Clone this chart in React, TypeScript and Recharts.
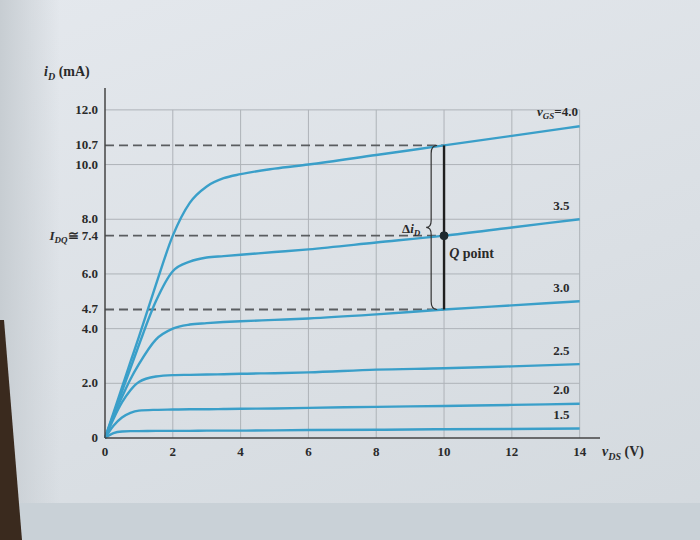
import { LineChart, Line, XAxis, YAxis, ReferenceLine, ReferenceDot } from "recharts";

const vds = [0, 0.25, 0.5, 0.75, 1, 1.5, 2, 2.5, 3, 3.5, 4, 5, 6, 8, 10, 12, 14];
const id40 = [0, 0.92, 1.85, 2.78, 3.7, 5.6, 7.4, 8.6, 9.2, 9.5, 9.65, 9.85, 10.0, 10.35, 10.7, 11.05, 11.4];
const id35 = [0, 0.85, 1.7, 2.55, 3.4, 5.0, 6.1, 6.45, 6.6, 6.65, 6.7, 6.8, 6.9, 7.15, 7.4, 7.7, 8.0];
const id30 = [0, 0.8, 1.5, 2.15, 2.7, 3.6, 4.0, 4.15, 4.2, 4.24, 4.27, 4.32, 4.37, 4.52, 4.7, 4.85, 5.0];
const id25 = [0, 0.7, 1.3, 1.75, 2.05, 2.25, 2.3, 2.31, 2.32, 2.33, 2.35, 2.37, 2.4, 2.5, 2.55, 2.62, 2.7];
const id20 = [0, 0.45, 0.75, 0.92, 1.0, 1.03, 1.04, 1.05, 1.05, 1.06, 1.07, 1.08, 1.1, 1.14, 1.17, 1.21, 1.25];
const id15 = [0, 0.18, 0.24, 0.25, 0.25, 0.26, 0.26, 0.26, 0.27, 0.27, 0.27, 0.28, 0.29, 0.3, 0.32, 0.33, 0.35];

const xTicks = [0, 2, 4, 6, 8, 10, 12, 14];
const yTicks = [0, 2, 4, 4.7, 6, 7.4, 8, 10, 10.7, 12];
const gridX = [2, 4, 6, 8, 10, 12, 14];
const gridY = [2, 4, 6, 8, 10, 12];

// Q point and the swing used for delta iD
const qV = 10;
const qI = 7.4;
const iHigh = 10.7;
const iLow = 4.7;

const series = [
  { key: "c40", vals: id40, label: "4.0" },
  { key: "c35", vals: id35, label: "3.5" },
  { key: "c30", vals: id30, label: "3.0" },
  { key: "c25", vals: id25, label: "2.5" },
  { key: "c20", vals: id20, label: "2.0" },
  { key: "c15", vals: id15, label: "1.5" },
];

const data = vds.map((v, i) => {
  const row: any = { v };
  series.forEach((s) => (row[s.key] = s.vals[i]));
  return row;
});

const BLUE = "#3a9fc9";
const INK = "#2a2a2a";
const FONT = "'Liberation Serif', 'DejaVu Serif', serif";

const YTick = (props: any) => {
  const { x, y, payload } = props;
  const v = payload.value;
  const base = { x, y, dy: 4, textAnchor: "end" as const, fontFamily: FONT, fontSize: 13, fontWeight: "bold", fill: INK };
  if (v === qI) {
    return (
      <text {...base}>
        <tspan fontStyle="italic">I</tspan>
        <tspan fontSize={9} dy={3} fontStyle="italic">DQ</tspan>
        <tspan dy={-3}>≅ 7.4</tspan>
      </text>
    );
  }
  return <text {...base}>{v === 0 ? "0" : v.toFixed(1)}</text>;
};

const XTick = (props: any) => {
  const { x, y, payload } = props;
  return (
    <text x={x} y={y} dy={10} textAnchor="middle" fontFamily={FONT} fontSize={13} fontWeight="bold" fill={INK}>
      {payload.value}
    </text>
  );
};

const Brace = (props: any) => {
  const { x1, y1, y2 } = props;
  const top = Math.min(y1, y2);
  const bot = Math.max(y1, y2);
  const mid = (top + bot) / 2;
  const x = x1;
  const d = `M ${x + 6} ${top} Q ${x} ${top} ${x} ${top + 8} L ${x} ${mid - 7} Q ${x} ${mid} ${x - 5} ${mid} Q ${x} ${mid} ${x} ${mid + 7} L ${x} ${bot - 8} Q ${x} ${bot} ${x + 6} ${bot}`;
  return <path d={d} fill="none" stroke="#333" strokeWidth={1.2} />;
};

const CurveLabel = (text: string, gs: boolean) => (p: any) => (
  <text x={p.cx} y={p.cy} textAnchor="end" fontFamily={FONT} fontSize={13} fontWeight="bold" fill={INK}>
    {gs && (
      <>
        <tspan fontStyle="italic">v</tspan>
        <tspan fontSize={9} dy={3} fontStyle="italic">GS</tspan>
        <tspan dy={-3}>{"="}</tspan>
      </>
    )}
    {text}
  </text>
);

export default function App() {
  return (
    <div
      style={{
        position: "absolute",
        left: 0,
        top: 0,
        width: 700,
        height: 540,
        overflow: "hidden",
        background: "linear-gradient(160deg, #e4e8ed 0%, #dadfe4 60%, #d3d9de 100%)",
      }}
    >
      <div
        style={{
          position: "absolute",
          left: 0,
          top: 0,
          width: 60,
          height: 540,
          background: "linear-gradient(90deg, #c7cdd2 0%, rgba(199,205,210,0) 100%)",
        }}
      />
      <div
        style={{
          position: "absolute",
          left: 0,
          top: 0,
          width: 700,
          height: 540,
          background: "#c9d1d7",
          clipPath: "polygon(0px 503px, 700px 503px, 700px 540px, 0px 540px)",
        }}
      />
      <div
        style={{
          position: "absolute",
          left: 0,
          top: 0,
          width: 30,
          height: 540,
          background: "#3a2a1e",
          clipPath: "polygon(0px 320px, 4px 320px, 22px 540px, 0px 540px)",
        }}
      />
      <div style={{ position: "absolute", left: 44, top: 64, fontFamily: FONT, fontSize: 14, color: INK, fontWeight: "bold" }}>
        <i>i</i>
        <sub style={{ fontSize: 10 }}>
          <i>D</i>
        </sub>{" "}
        (mA)
      </div>
      <div style={{ position: "absolute", left: 602, top: 444, fontFamily: FONT, fontSize: 14, color: INK, fontWeight: "bold" }}>
        <i>v</i>
        <sub style={{ fontSize: 10 }}>
          <i>DS</i>
        </sub>{" "}
        (V)
      </div>
      <LineChart
        width={700}
        height={540}
        data={data}
        margin={{ top: 88, right: 100, bottom: 72, left: 0 }}
        style={{ position: "absolute", left: 0, top: 0 }}
      >
        <XAxis
          dataKey="v"
          type="number"
          domain={[0, 14.6]}
          ticks={xTicks}
          interval={0}
          height={30}
          tick={<XTick />}
          tickLine={false}
          axisLine={{ stroke: "#444", strokeWidth: 1.5 }}
        />
        <YAxis
          type="number"
          domain={[0, 12.8]}
          ticks={yTicks}
          interval={0}
          width={105}
          tick={<YTick />}
          tickLine={false}
          tickSize={3}
          tickMargin={4}
          axisLine={{ stroke: "#444", strokeWidth: 1.5 }}
        />
        {gridY.map((g) => (
          <ReferenceLine key={"gy" + g} segment={[{ x: 0, y: g }, { x: 14, y: g }]} stroke="#aeb3b8" strokeWidth={1} />
        ))}
        {gridX.map((g) => (
          <ReferenceLine key={"gx" + g} segment={[{ x: g, y: 0 }, { x: g, y: 12 }]} stroke="#aeb3b8" strokeWidth={1} />
        ))}
        {[iHigh, qI, iLow].map((lv) => (
          <ReferenceLine
            key={"d" + lv}
            segment={[{ x: 0, y: lv }, { x: qV, y: lv }]}
            stroke="#5a5d60"
            strokeWidth={1.8}
            strokeDasharray="9 5"
          />
        ))}
        {series.map((s) => (
          <Line
            key={s.key}
            dataKey={s.key}
            type="monotone"
            stroke={BLUE}
            strokeWidth={2.4}
            dot={false}
            isAnimationActive={false}
          />
        ))}
        <ReferenceLine segment={[{ x: qV, y: iLow }, { x: qV, y: iHigh }]} stroke="#1f1f1f" strokeWidth={2.4} />
        <ReferenceLine segment={[{ x: 9.62, y: iLow }, { x: 9.62, y: iHigh }]} shape={<Brace />} />
        <ReferenceDot x={qV} y={qI} r={4} fill="#1f2a30" stroke="#1f2a30" />
        <ReferenceDot
          x={9.3}
          y={7.5}
          r={0}
          shape={(p: any) => (
            <text x={p.cx} y={p.cy} textAnchor="end" fontFamily={FONT} fontSize={13} fontWeight="bold" fill={INK}>
              Δ<tspan fontStyle="italic">i</tspan>
              <tspan fontSize={9} dy={3} fontStyle="italic">D</tspan>
            </text>
          )}
        />
        <ReferenceDot
          x={10.15}
          y={6.6}
          r={0}
          shape={(p: any) => (
            <text x={p.cx} y={p.cy} fontFamily={FONT} fontSize={14} fontWeight="bold" fill={INK}>
              <tspan fontStyle="italic">Q</tspan> point
            </text>
          )}
        />
        {series.map((s, i) => (
          <ReferenceDot
            key={"l" + s.key}
            x={i === 0 ? 13.95 : 13.7}
            y={i === 0 ? 11.78 : s.vals[s.vals.length - 1] + 0.35}
            r={0}
            shape={CurveLabel(s.label, i === 0)}
          />
        ))}
      </LineChart>
    </div>
  );
}
